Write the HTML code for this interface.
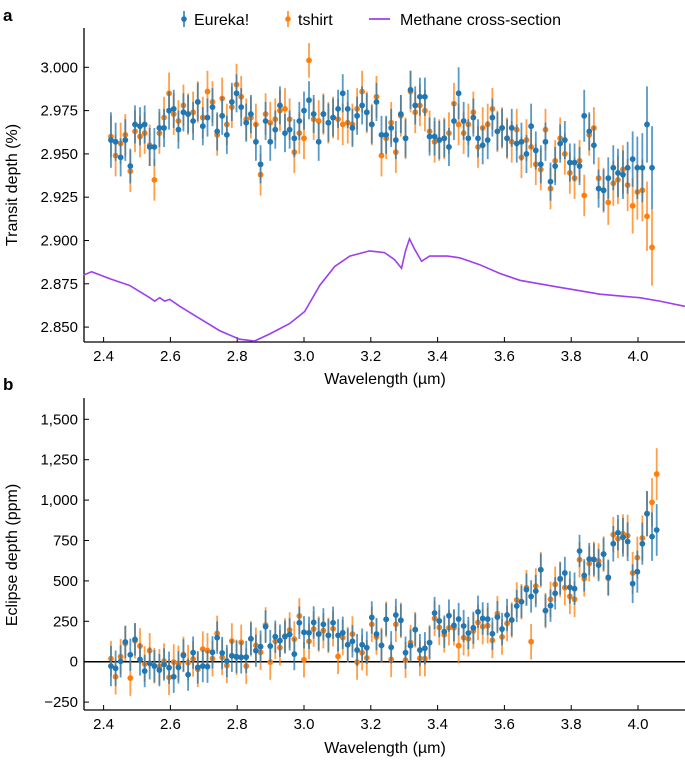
<!DOCTYPE html>
<html><head><meta charset="utf-8">
<style>
html,body{margin:0;padding:0;background:#fff;}
svg{display:block;font-family:"Liberation Sans",Arial,sans-serif;}
</style></head>
<body>
<svg id="chart" width="685" height="762" viewBox="0 0 685 762" xmlns="http://www.w3.org/2000/svg">
  <text x="3" y="21" font-size="17" font-weight="bold">a</text>
  <text x="3" y="390" font-size="17" font-weight="bold">b</text>
  <g>
    <g>
      <line x1="184" y1="11" x2="184" y2="27" stroke="#1f77b4" stroke-width="1.5"/>
      <circle cx="184" cy="19" r="2.8" fill="#1f77b4"/>
      <text x="194" y="25" font-size="16">Eureka!</text>
    </g>
    <g>
      <line x1="288" y1="11" x2="288" y2="27" stroke="#ff7f0e" stroke-width="1.5"/>
      <circle cx="288" cy="19" r="2.8" fill="#ff7f0e"/>
      <text x="298" y="25" font-size="16">tshirt</text>
    </g>
    <g>
      <line x1="369" y1="19" x2="390" y2="19" stroke="#9b3ff0" stroke-width="1.8"/>
      <text x="400" y="25" font-size="16">Methane cross-section</text>
    </g>
  </g>
  <text x="385" y="384" font-size="16" text-anchor="middle">Wavelength (µm)</text>
  <text x="385" y="753" font-size="16" text-anchor="middle">Wavelength (µm)</text>
  <text transform="translate(17,185) rotate(-90)" font-size="16" text-anchor="middle">Transit depth (%)</text>
  <text transform="translate(17,555) rotate(-90)" font-size="16" text-anchor="middle">Eclipse depth (ppm)</text>
</svg>
<script>
const wavelengths = [2.422,2.436,2.451,2.465,2.480,2.494,2.509,2.523,2.538,2.552,2.567,2.581,2.596,2.610,2.624,2.639,2.653,2.668,2.682,2.697,2.711,2.726,2.740,2.755,2.769,2.784,2.798,2.812,2.827,2.841,2.856,2.870,2.885,2.899,2.914,2.928,2.943,2.957,2.971,2.986,3.000,3.015,3.029,3.044,3.058,3.073,3.087,3.102,3.116,3.131,3.145,3.159,3.174,3.188,3.203,3.217,3.232,3.246,3.261,3.275,3.290,3.304,3.319,3.333,3.347,3.362,3.376,3.391,3.405,3.420,3.434,3.449,3.463,3.478,3.492,3.507,3.521,3.535,3.550,3.564,3.579,3.593,3.608,3.622,3.637,3.651,3.666,3.680,3.694,3.709,3.723,3.738,3.752,3.767,3.781,3.796,3.810,3.825,3.839,3.854,3.868,3.882,3.897,3.911,3.926,3.940,3.955,3.969,3.984,3.998,4.013,4.027,4.042,4.056];

const transitEureka = [2.958,2.957,2.948,2.958,2.943,2.967,2.966,2.967,2.954,2.954,2.965,2.965,2.975,2.976,2.964,2.974,2.973,2.969,2.980,2.966,2.971,2.977,2.963,2.972,2.961,2.980,2.985,2.977,2.968,2.973,2.957,2.944,2.969,2.957,2.964,2.978,2.962,2.964,2.959,2.969,2.975,2.981,2.973,2.957,2.973,2.968,2.971,2.976,2.985,2.976,2.965,2.972,2.978,2.974,2.967,2.980,2.961,
2.961,2.965,2.958,2.973,2.959,2.987,2.978,2.983,2.983,2.960,2.960,2.958,2.959,2.954,2.969,2.985,2.969,2.959,2.971,2.959,2.955,2.958,2.971,2.963,2.965,2.959,2.965,2.956,2.957,2.950,2.966,2.952,2.944,2.957,2.934,2.943,2.956,2.958,2.945,2.945,2.943,2.972,2.963,2.955,2.930,2.929,2.936,2.942,2.939,2.938,2.942,2.947,2.942,2.942,2.967,2.942];
const transitTshirt = [2.960,2.949,2.956,2.961,2.940,2.963,2.960,2.962,2.955,2.935,2.962,2.971,2.985,2.973,2.969,2.978,2.973,2.974,2.980,2.971,2.986,2.980,2.961,2.982,2.967,2.977,2.990,2.983,2.970,2.971,2.967,2.938,2.973,2.968,2.970,2.975,2.976,2.970,2.951,2.962,2.959,3.004,2.970,2.969,2.973,2.968,2.971,2.970,2.967,2.968,2.967,2.976,2.986,2.974,2.967,2.983,2.949,
2.959,2.968,2.951,2.972,2.959,2.986,2.974,2.978,2.975,2.963,2.957,2.958,2.959,2.962,2.979,2.967,2.962,2.967,2.974,2.954,2.965,2.967,2.976,2.963,2.965,2.959,2.957,2.964,2.948,2.958,2.954,2.944,2.941,2.964,2.930,2.946,2.959,2.950,2.939,2.936,2.946,2.926,2.961,2.965,2.936,2.929,2.922,2.933,2.935,2.941,2.932,2.920,2.928,2.929,2.914,2.896];
const transitErrEureka = [0.016,0.011,0.011,0.012,0.010,0.011,0.011,0.011,0.011,0.011,0.011,0.011,0.011,0.011,0.011,0.011,0.011,0.011,0.011,0.011,0.011,0.011,0.011,0.011,0.011,0.011,0.011,0.011,0.011,0.011,0.011,0.011,0.011,0.011,0.011,0.011,0.011,0.011,0.011,0.011,0.011,0.011,0.011,0.011,0.011,0.011,0.011,0.011,0.011,0.011,0.011,0.011,0.011,0.011,0.011,0.011,0.011,
0.011,0.011,0.011,0.011,0.011,0.011,0.011,0.011,0.011,0.011,0.011,0.011,0.011,0.011,0.011,0.015,0.011,0.011,0.011,0.011,0.011,0.011,0.011,0.011,0.011,0.011,0.011,0.011,0.011,0.011,0.013,0.011,0.011,0.011,0.011,0.011,0.011,0.011,0.011,0.011,0.011,0.015,0.011,0.011,0.011,0.012,0.012,0.013,0.014,0.014,0.015,0.016,0.018,0.020,0.022,0.024,0.048,0.050];
const transitErrTshirt = [0.012,0.012,0.012,0.012,0.012,0.012,0.012,0.012,0.012,0.012,0.012,0.012,0.012,0.012,0.012,0.012,0.012,0.012,0.012,0.012,0.012,0.012,0.012,0.012,0.012,0.012,0.012,0.012,0.012,0.012,0.012,0.012,0.012,0.012,0.012,0.012,0.012,0.012,0.012,0.012,0.012,0.010,0.012,0.012,0.012,0.012,0.012,0.012,0.012,0.012,0.012,0.012,0.012,0.012,0.012,0.012,0.012,
0.012,0.012,0.012,0.012,0.012,0.012,0.012,0.012,0.012,0.012,0.012,0.012,0.012,0.012,0.012,0.012,0.012,0.012,0.012,0.012,0.012,0.012,0.012,0.012,0.012,0.012,0.012,0.012,0.012,0.012,0.012,0.012,0.012,0.012,0.012,0.012,0.012,0.012,0.012,0.012,0.012,0.012,0.012,0.012,0.012,0.013,0.013,0.013,0.014,0.014,0.015,0.016,0.016,0.018,0.020,0.022,0.030,0.047];

const eclipseEureka = [-27,-41,2,122,43,138,14,-58,-10,-27,-52,-17,-37,-93,-35,39,-80,56,-35,-27,-31,58,149,54,4,37,31,27,29,142,68,93,217,97,155,130,155,169,47,241,182,179,243,171,231,163,241,163,179,105,126,72,105,87,274,171,101,
262,89,289,256,56,99,198,72,83,118,301,252,186,285,225,264,221,177,210,309,268,264,173,276,202,289,258,345,371,446,404,437,569,316,347,423,514,549,460,452,685,534,635,633,598,666,522,730,798,770,743,483,557,730,916,774,815];
const eclipseTshirt = [19,-93,31,113,-101,130,97,-14,68,-25,-31,4,-97,-2,-10,45,-6,17,-47,78,68,19,175,27,-23,128,27,120,-27,142,101,58,227,-2,126,87,159,196,140,283,12,126,202,171,192,163,204,33,149,105,171,-2,56,23,231,153,101,
262,14,231,256,10,118,198,21,19,118,268,212,167,210,210,99,149,142,190,243,217,223,132,297,153,237,258,382,371,458,124,468,569,316,386,479,510,458,404,386,631,514,607,633,623,666,516,786,761,792,780,549,644,765,916,986,1161];
const eclipseErrEureka = [125,110,100,100,100,100,100,100,100,100,100,100,100,100,100,100,100,100,100,100,100,100,100,100,100,100,100,100,100,100,100,100,100,100,100,100,100,100,100,100,100,100,100,100,100,100,100,100,100,100,100,100,100,100,100,100,100,
100,100,100,100,100,100,100,100,100,100,100,100,100,100,100,100,100,100,100,100,100,100,100,100,100,100,100,100,100,100,100,100,100,100,100,100,100,100,100,100,100,100,100,100,100,100,110,110,110,120,120,120,130,130,140,150,160,180,200,240,300,370,560];
const eclipseErrTshirt = [110,110,110,110,110,110,110,110,110,110,110,110,110,110,110,110,110,110,110,110,110,110,110,110,110,110,110,110,110,110,110,110,110,110,110,110,110,110,110,110,110,110,110,110,110,110,110,110,110,110,110,110,110,110,110,110,110,
110,110,110,110,110,110,110,110,110,110,110,110,110,110,110,110,110,110,110,110,110,110,110,110,110,110,110,110,110,110,110,110,110,110,110,110,110,110,110,110,110,110,110,110,110,110,110,110,120,120,130,130,130,140,140,150,160,180,200,250,320,400,580];

const methaneWl = [2.340,2.364,2.418,2.478,2.538,2.553,2.568,2.583,2.598,2.628,2.687,2.747,2.807,2.852,2.897,2.957,3.002,3.047,3.092,3.137,3.196,3.241,3.271,3.292,3.304,3.316,3.331,3.352,3.376,3.430,3.466,3.526,3.586,3.646,3.705,3.765,3.825,3.886,3.945,4.005,4.065,4.140];
const methaneVal = [2.880,2.882,2.878,2.874,2.867,2.865,2.867,2.865,2.866,2.862,2.855,2.848,2.843,2.842,2.846,2.852,2.859,2.874,2.885,2.891,2.894,2.893,2.889,2.884,2.894,2.901,2.895,2.888,2.891,2.891,2.890,2.886,2.881,2.877,2.875,2.873,2.871,2.869,2.868,2.867,2.865,2.862];

const xTicks = [2.4,2.6,2.8,3.0,3.2,3.4,3.6,3.8,4.0];
const xTickLabels = ["2.4","2.6","2.8","3.0","3.2","3.4","3.6","3.8","4.0"];
const yTicksA = [3.000,2.975,2.950,2.925,2.900,2.875,2.850];
const yTickLabelsA = ["3.000","2.975","2.950","2.925","2.900","2.875","2.850"];
const yTicksB = [1500,1250,1000,750,500,250,0,-250];
const yTickLabelsB = ["1,500","1,250","1,000","750","500","250","0","\u2212250"];

const NS = "http://www.w3.org/2000/svg";
const svg = document.getElementById("chart");
const LEFT = 84, RIGHT = 685;
function xScale(w){ return 103.6 + (w - 2.4) * 334; }
function yScaleA(v){ return 67.3 + (3.0 - v) * 1732; }
function yScaleB(v){ return 661.7 - v * 0.1616; }
function mk(tag, attrs, parent){
  const e = document.createElementNS(NS, tag);
  for (const k in attrs) e.setAttribute(k, attrs[k]);
  (parent || svg).appendChild(e);
  return e;
}

function axes(panel, top, bottom, yTicks, yLabels, yScale){
  const g = mk("g", {});
  
  
  const ya = mk("line", {x1:LEFT, y1:top, x2:LEFT, y2:bottom, stroke:"#000", "stroke-width":1.3}, g);
  
  
  const xa = mk("line", {x1:LEFT, y1:bottom, x2:RIGHT, y2:bottom, stroke:"#000", "stroke-width":1.3}, g);
  
  
  xTicks.forEach((t, i) => {
    const x = xScale(t);
    const tl = mk("line", {x1:x, y1:bottom, x2:x, y2:bottom-5, stroke:"#000", "stroke-width":1}, g);
    
    
    const tx = mk("text", {x:x, y:bottom+19, "font-size":15, "text-anchor":"middle"}, g);
    tx.textContent = xTickLabels[i];
    
    
  });
  yTicks.forEach((t, i) => {
    const y = yScale(t);
    const tl = mk("line", {x1:LEFT, y1:y, x2:LEFT+5, y2:y, stroke:"#000", "stroke-width":1}, g);
    
    
    const tx = mk("text", {x:LEFT-6, y:y+5, "font-size":15, "text-anchor":"end"}, g);
    tx.textContent = yLabels[i];
    
    
  });
}
axes("a", 28, 342, yTicksA, yTickLabelsA, yScaleA);
axes("b", 398, 710, yTicksB, yTickLabelsB, yScaleB);

const zl = mk("line", {x1:LEFT, y1:yScaleB(0), x2:RIGHT, y2:yScaleB(0), stroke:"#000", "stroke-width":1.5});



// methane line
let d = "";
methaneWl.forEach((w, i) => {
  d += (i ? "L" : "M") + xScale(w).toFixed(1) + "," + yScaleA(methaneVal[i]).toFixed(1);
});
const ml = mk("path", {d:d, fill:"none", stroke:"#9b3ff0", "stroke-width":1.6});



function series(name, vals, errs, yScale, color, barColor){
  const g = mk("g", {});
  
  
  vals.forEach((v, i) => {
    const x = xScale(wavelengths[i]);
    const bar = mk("line", {x1:x, y1:yScale(v - errs[i]), x2:x, y2:yScale(v + errs[i]), stroke:barColor, "stroke-width":1.8}, g);
    
    
    const c = mk("circle", {cx:x, cy:yScale(v), r:2.9, fill:color}, g);
    
    
  });
}
series("transit-tshirt", transitTshirt, transitErrTshirt, yScaleA, "#ff7f0e", "rgba(255,127,14,0.75)");
series("transit-eureka", transitEureka, transitErrEureka, yScaleA, "#1f77b4", "rgba(31,119,180,0.75)");
series("eclipse-tshirt", eclipseTshirt, eclipseErrTshirt, yScaleB, "#ff7f0e", "rgba(255,127,14,0.75)");
series("eclipse-eureka", eclipseEureka, eclipseErrEureka, yScaleB, "#1f77b4", "rgba(31,119,180,0.75)");
</script>
</body></html>
